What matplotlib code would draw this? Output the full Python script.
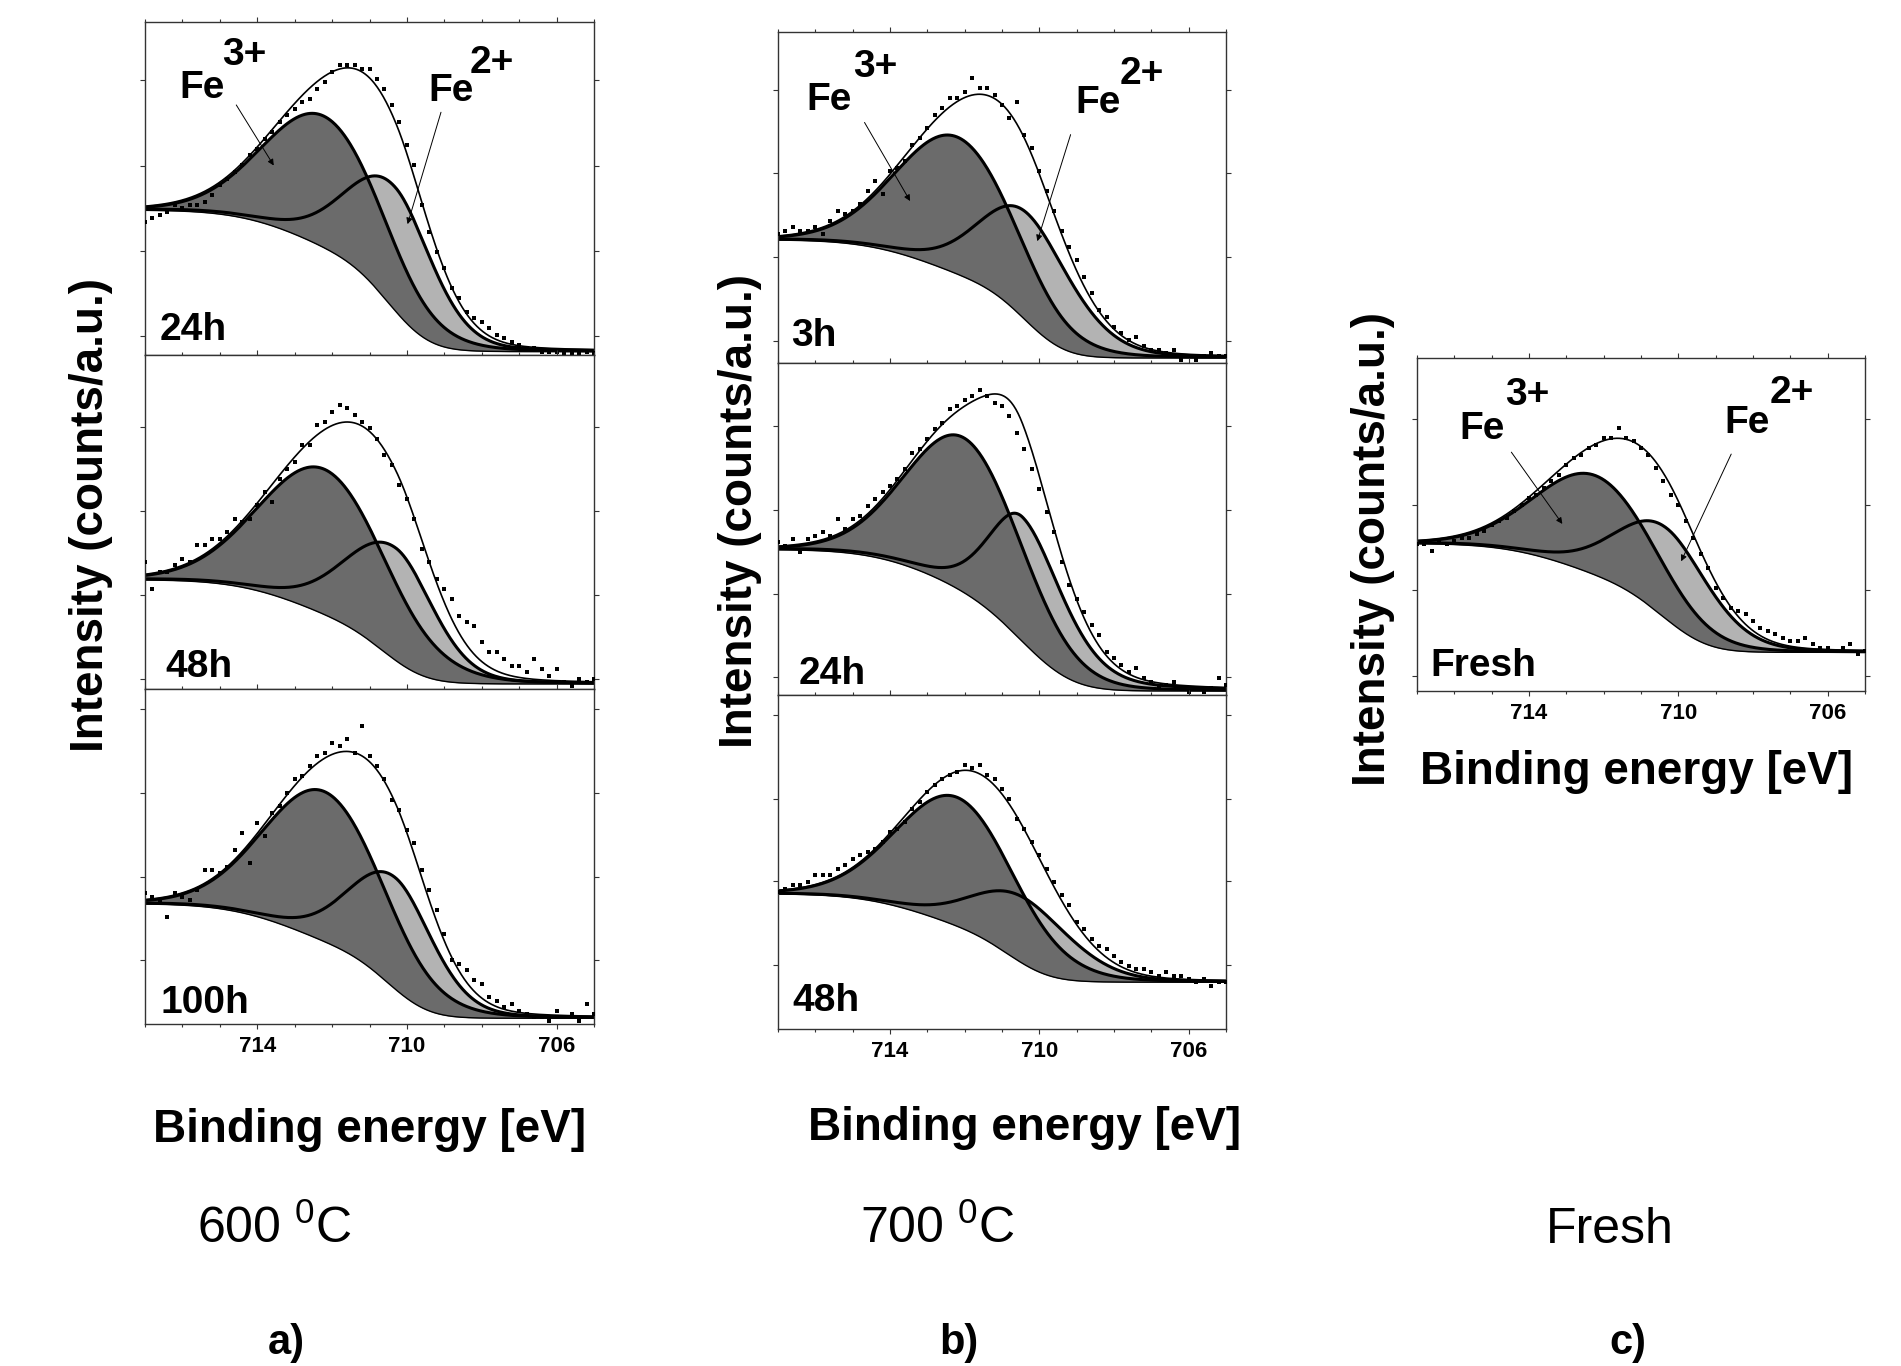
import math
import numpy as np
import matplotlib
matplotlib.use('Agg')
import matplotlib.pyplot as plt
from matplotlib.ticker import MultipleLocator

plt.rcParams['font.family'] = 'Liberation Sans'
plt.rcParams['mathtext.fontset'] = 'custom'
plt.rcParams['mathtext.rm'] = 'Liberation Sans'
plt.rcParams['mathtext.default'] = 'regular'

W, H = 1901, 1366

# panels: a) 600C 24h/48h/100h, b) 700C 3h/24h/48h, c) fresh
SAMPLE_LABELS = ['24h', '48h', '100h', '3h', '24h', '48h', 'Fresh']

# measured points, binding energy 717 -> 705 eV in 0.2 eV steps,
# intensity in % of the panel height (read off the picture)
BINDING_ENERGY = np.round(np.arange(717.0, 704.9, -0.2), 1)
counts_600_24h = [40, 41, 42, 43, 45, 44, 45, 45, 46, 48, 51, 53, 55, 57, 60, 62, 65, 67, 70, 72,
                  74, 76, 77, 80, 82, 85, 87, 87, 87, 86, 86, 83, 80, 75, 70, 63, 57, 45, 37, 31,
                  26, 20, 17, 13, 11, 10, 8, 6, 5, 4, 3, 2, 2, 1, 1, 1, 0.5, 0.5, 0.5, 1, 0.5]
counts_600_48h = [38, 30, 35, 35, 37, 39, 38, 43, 43, 45, 45, 47, 51, 50, 51, 55, 59, 56, 63, 66,
                  68, 73, 73, 79, 80, 83, 85, 84, 82, 80, 78, 75, 70, 67, 61, 57, 51, 42, 38, 33,
                  30, 27, 22, 20, 19, 14, 11, 11, 9, 7, 7, 5, 9, 6, 4, 6, 2, 1, 3, 2, 3]
counts_600_100h = [39, 38, 37, 32, 39, 38, 37, 40, 46, 46, 45, 47, 52, 57, 48, 60, 56, 63, 65, 69,
                   73, 74, 77, 80, 81, 84, 83, 85, 81, 89, 80, 77, 73, 67, 64, 58, 54, 46, 40, 34,
                   27, 19, 18, 16, 13, 12, 8, 7, 5, 6, 4, 3, 2, 2, 1, 4, 2, 3, 1, 6, 3]
counts_700_3h = [39, 40, 41, 40, 40, 41, 39, 43, 46, 45, 46, 48, 52, 55, 51, 58, 59, 61, 66, 68,
                 71, 75, 77, 80, 80, 82, 86, 83, 83, 81, 78, 74, 79, 69, 65, 58, 52, 46, 40, 35,
                 31, 26, 21, 16, 14, 11, 9, 7, 8, 5, 4, 4, 3, 4, 1, 2, 1, 2, 3, 2, 2]
counts_700_24h = [46, 45, 47, 43, 47, 48, 49, 48, 53, 50, 53, 54, 57, 59, 61, 63, 65, 68, 73, 74,
                  77, 80, 82, 86, 87, 89, 90, 92, 90, 88, 87, 84, 79, 74, 68, 62, 55, 49, 40, 33,
                  29, 25, 21, 18, 13, 11, 9, 7, 8, 5, 4, 2, 3, 4, 2, 1, 2, 1, 2, 5, 3]
counts_700_48h = [41, 42, 43, 43, 44, 46, 46, 46, 48, 49, 51, 52, 53, 54, 56, 59, 60, 62, 66, 68,
                  71, 73, 75, 76, 77, 79, 78, 79, 76, 75, 72, 69, 63, 60, 56, 52, 48, 44, 40, 37,
                  32, 30, 27, 25, 24, 22, 20, 19, 18, 18, 17, 16, 17, 16, 16, 15, 14, 15, 13, 14, 14]
counts_fresh = [44, 44, 42, 45, 44, 45, 46, 46, 47, 48, 50, 51, 52, 54, 56, 58, 59, 61, 63, 65,
                68, 70, 71, 73, 74, 76, 76, 79, 76, 75, 73, 71, 67, 63, 59, 56, 51, 46, 41, 37,
                31, 28, 25, 24, 23, 21, 19, 18, 17, 16, 15, 15, 16, 14, 13, 13, 12, 13, 14, 11, 12]
COUNTS = [counts_600_24h, counts_600_48h, counts_600_100h, counts_700_3h, counts_700_24h,
          counts_700_48h, counts_fresh]

# fit components (same % units)
BG_HIGH = [43.5, 32.7, 35.9, 37.2, 43.8, 40.5, 44.3]
BG_LOW = [1.0, 1.5, 1.7, 1.5, 1.2, 14.0, 11.6]
BG_C1 = [710.4, 710.5, 710.4, 710.3, 710.3, 710.7, 710.3]
BG_S1 = [0.8, 0.8, 0.8, 0.8, 1.0, 0.8, 0.9]
BG_C2 = [712.3, 712.4, 712.6, 712.5, 712.3, 712.6, 712.5]
BG_S2 = [1.7, 1.7, 1.7, 1.7, 1.7, 1.7, 1.7]
BG_W = [0.5, 0.4, 0.45, 0.5, 0.5, 0.4, 0.5]

FE3_CENTER = [712.2, 712.2, 712.2, 712.2, 712.0, 712.2, 712.2]
FE3_HEIGHT = [39.5, 43.5, 44.8, 41.4, 46.6, 38.6, 29.9]
FE3_SIGMA = [1.6, 1.7, 1.6, 1.6, 1.55, 1.6, 1.6]
FE3_ETA = 0.1

FE2_CENTER = [710.3, 710.3, 710.3, 710.3, 710.45, 710.4, 710.3]
FE2_HEIGHT = [37.1, 33.7, 33.3, 32.8, 37.5, 19.9, 27.4]
FE2_SIGMA_LO = [1.05, 1.05, 1.05, 1.25, 1.15, 1.3, 1.2]   # low binding energy side
FE2_SIGMA_HI = [1.25, 1.3, 1.2, 1.25, 0.9, 1.3, 1.3]      # high binding energy side
FE2_ETA = [0.2, 0.2, 0.2, 0.2, 0.35, 0.2, 0.2]

YTICKS = [[5.7, 31.1, 56.9, 82.5], [3.0, 28.0, 53.2, 78.5], [19, 44, 69, 94],
          [6.7, 32, 57.3, 82.6], [5.5, 30.5, 55.7, 81], [19.2, 44.2, 69, 94],
          [4.5, 30.2, 55.9, 81.6]]

erf = np.vectorize(math.erf)


def cdf(z):
    return 0.5 * (1 + erf(z / math.sqrt(2)))


def voigt(x, c, a, s_lo, s_hi, eta):
    # pseudo-Voigt with a different width on each side of the centre
    s = np.where(x > c, s_hi, s_lo)
    fw = 2.3548 * s
    u = 4 * (x - c) ** 2 / fw ** 2
    return a * ((1 - eta) * np.exp(-math.log(2) * u) + eta / (1 + u))


def components(i, x):
    step = BG_W[i] * cdf((x - BG_C1[i]) / BG_S1[i]) + (1 - BG_W[i]) * cdf((x - BG_C2[i]) / BG_S2[i])
    bg = BG_LOW[i] + (BG_HIGH[i] - BG_LOW[i]) * step
    g3 = voigt(x, FE3_CENTER[i], FE3_HEIGHT[i], FE3_SIGMA[i], FE3_SIGMA[i], FE3_ETA)
    g2 = voigt(x, FE2_CENTER[i], FE2_HEIGHT[i], FE2_SIGMA_LO[i], FE2_SIGMA_HI[i], FE2_ETA[i])
    return bg, g3, g2


fig = plt.figure(figsize=(W / 100, H / 100), dpi=100)


def box(x0, y0, x1, y1):
    return fig.add_axes([x0 / W, 1 - y1 / H, (x1 - x0) / W, (y1 - y0) / H])


def ftext(x, y, s, **kw):
    fig.text(x / W, 1 - y / H, s, **kw)


boxes = [(145, 22, 594, 355), (145, 355, 594, 689), (145, 689, 594, 1024),
         (778, 32, 1226, 363), (778, 363, 1226, 695), (778, 695, 1226, 1029),
         (1417, 358, 1865, 691)]
bottom_row = [2, 5, 6]
label_pos = [(0.033, 0.046), (0.045, 0.035), (0.035, 0.032), (0.03, 0.052),
             (0.045, 0.032), (0.031, 0.055), (0.03, 0.045)]
# Fe labels: (fe3 text, fe3 sup, arrow tail, arrow tip, fe2 text, fe2 sup, tail, tip)
fe_marks = {
    0: [(0.076, 0.773), (0.171, 0.871), (0.2, 0.758), (0.29, 0.562),
        (0.631, 0.763), (0.724, 0.847), (0.661, 0.737), (0.583, 0.385)],
    3: [(0.063, 0.764), (0.168, 0.864), (0.19, 0.734), (0.298, 0.482),
        (0.663, 0.754), (0.763, 0.844), (0.655, 0.698), (0.577, 0.36)],
    6: [(0.094, 0.757), (0.196, 0.859), (0.207, 0.724), (0.328, 0.495),
        (0.687, 0.774), (0.788, 0.864), (0.704, 0.719), (0.587, 0.382)],
}

xx = np.linspace(705, 717, 600)
for i, b in enumerate(boxes):
    ax = box(*b)
    bg, g3, g2 = components(i, xx)
    ax.fill_between(xx, bg, bg + g2, color='#b3b3b3', lw=0)
    ax.fill_between(xx, bg, bg + g3, color='#6b6b6b', lw=0)
    ax.plot(xx, bg, color='k', lw=1.0)
    ax.plot(xx, bg + g3, color='k', lw=2.2)
    ax.plot(xx, bg + g2, color='k', lw=2.2)
    ax.plot(xx, bg + g3 + g2, color='k', lw=1.2)
    ax.plot(BINDING_ENERGY, COUNTS[i], 's', color='k', ms=3.5, mew=0, zorder=5)
    ax.set_xlim(717, 705)
    ax.set_ylim(0, 100)
    ax.set_xticks([714, 710, 706])
    ax.xaxis.set_minor_locator(MultipleLocator(1))
    ax.set_yticks(YTICKS[i])
    ax.tick_params(which='both', direction='out', top=True, right=True, color='#333333',
                   labelleft=False, labelbottom=i in bottom_row, labelsize=16, pad=5)
    ax.tick_params(which='major', length=3.8, width=0.8)
    ax.tick_params(which='minor', length=2.4, width=0.8)
    for lab in ax.get_xticklabels():
        lab.set_fontweight('bold')
    for sp in ax.spines.values():
        sp.set_color('#333333')
        sp.set_linewidth(1.0)
    ax.text(*label_pos[i], SAMPLE_LABELS[i], transform=ax.transAxes, fontsize=28,
            fontweight='bold', va='baseline', ha='left')
    if i in fe_marks:
        m = fe_marks[i]
        for t, sup, tail, tip, ion in [(m[0], m[1], m[2], m[3], '3+'), (m[4], m[5], m[6], m[7], '2+')]:
            ax.text(*t, 'Fe', transform=ax.transAxes, fontsize=28, fontweight='bold', va='baseline')
            ax.text(*sup, ion, transform=ax.transAxes, fontsize=28, fontweight='bold', va='baseline')
            ax.annotate('', xy=tip, xytext=tail, xycoords='axes fraction',
                        arrowprops=dict(arrowstyle='-|>', lw=0.7, color='k', mutation_scale=9))

bold = dict(fontsize=33, fontweight='bold', ha='center', va='center')
ftext(91, 515, 'Intensity (counts/a.u.)', rotation=90, **bold)
ftext(740, 511, 'Intensity (counts/a.u.)', rotation=90, **bold)
ftext(1373, 549, 'Intensity (counts/a.u.)', rotation=90, **bold)
ftext(370, 1130, 'Binding energy [eV]', **bold)
ftext(1025, 1128, 'Binding energy [eV]', **bold)
ftext(1637, 772, 'Binding energy [eV]', **bold)

ftext(274, 1243, r'600 $^{0}$C', fontsize=36, ha='center', va='baseline')
ftext(937, 1243, r'700 $^{0}$C', fontsize=36, ha='center', va='baseline')
ftext(1610, 1243, 'Fresh', fontsize=36, ha='center', va='baseline')
ftext(286, 1354, 'a)', fontsize=30, fontweight='bold', ha='center', va='baseline')
ftext(959, 1354, 'b)', fontsize=30, fontweight='bold', ha='center', va='baseline')
ftext(1628, 1354, 'c)', fontsize=30, fontweight='bold', ha='center', va='baseline')

fig.savefig('out.png', dpi=100)
